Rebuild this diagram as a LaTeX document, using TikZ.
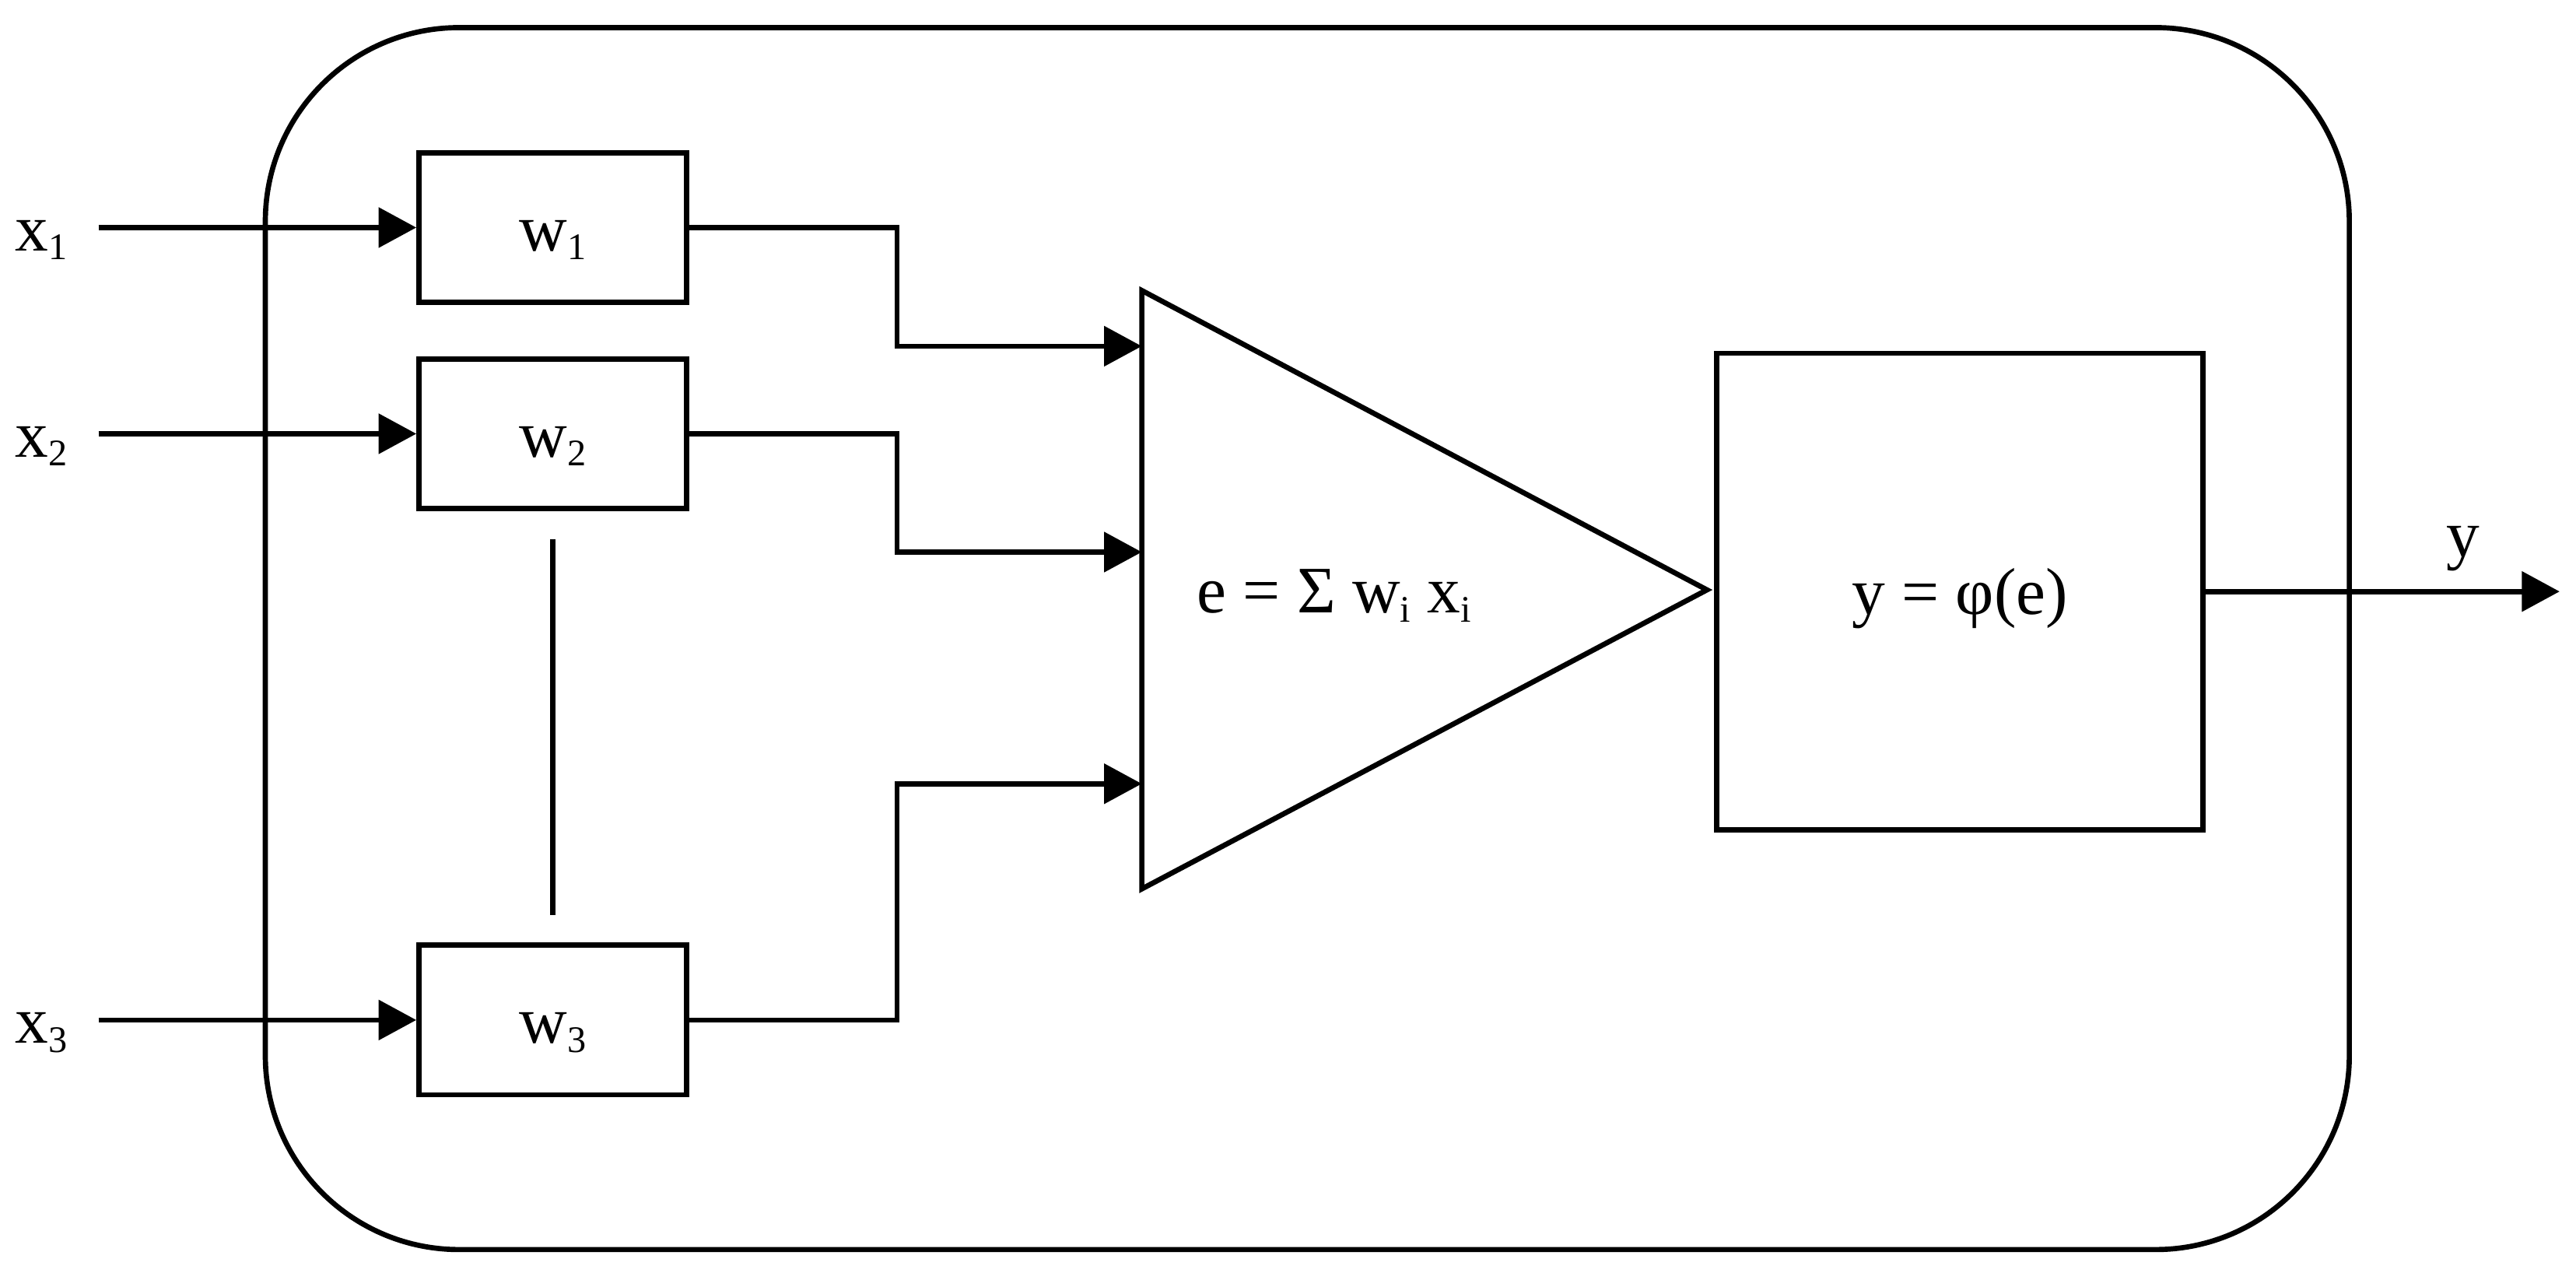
\documentclass[tikz,border=0pt]{standalone}
\usepackage{fontspec}
\setmainfont{Liberation Serif}
\usepackage{tikz}
\usetikzlibrary{arrows.meta}
\usetikzlibrary{positioning}
\usetikzlibrary{calc}

\newcommand{\lowix}[1]{\raisebox{-1.6pt}{\fontsize{6.5}{7}\selectfont #1}}

\begin{document}
\begin{tikzpicture}[line width=0.9pt,
    wbox/.style={draw, minimum width=1.63cm, minimum height=0.91cm, inner sep=0pt, text height=0.3cm, text depth=0.02cm},
    lbl/.style={inner sep=0pt, text height=0.3cm, text depth=0.02cm},
    arr/.style={-{Triangle[length=0.23cm,width=0.24cm]}},
    font=\fontsize{11.5}{13}\selectfont]

    \useasboundingbox (0,0) rectangle (15.68,7.79);

    % the neuron body
    \draw[rounded corners=1.18cm] (1.615,7.622) rectangle (14.30,0.185);

    % weights and their inputs
    \def\bx{3.365};
    \foreach \i/\y in {1/6.405, 2/5.150, 3/1.582} {
        \node[wbox] (w\i) at (\bx,\y) {w\lowix{\i}};
        \node[lbl] (x\i) at (0.25,\y) {x\lowix{\i}};
        \coordinate (in\i) at (0.60,\y);
        \draw[arr] (in\i) -- (w\i.west);
    }

    % the gap between w2 and w3
    \draw[shorten <=0.17cm, shorten >=0.17cm] (w2) -- (w3);

    % summing triangle
    \def\tx{6.95};
    \coordinate (sA) at (\tx,6.022);
    \coordinate (sB) at (\tx,2.38);
    \coordinate (sC) at (10.39,4.20);
    \draw (sA) -- (sC) -- (sB) -- cycle;
    \node[lbl] (sum) at (8.12,4.20) {e = Σ w\lowix{i} x\lowix{i}};

    % weighted inputs into the sum
    \foreach \i/\ey in {1/5.683, 2/4.43, 3/3.02} {
        \coordinate (e\i) at (\tx,\ey);
        \draw[arr] (w\i.east) -| (5.46,\ey) -- (e\i);
    }

    % activation and output
    \node[wbox, minimum width=2.96cm, minimum height=2.90cm] (act) at (11.93,4.19) {y = φ(e)};
    \coordinate (out) at (15.58,4.19);
    \draw[arr] (act.east) -- (out);
    \node[lbl] (ylab) at (14.99,4.54) {y};

\end{tikzpicture}
\end{document}
